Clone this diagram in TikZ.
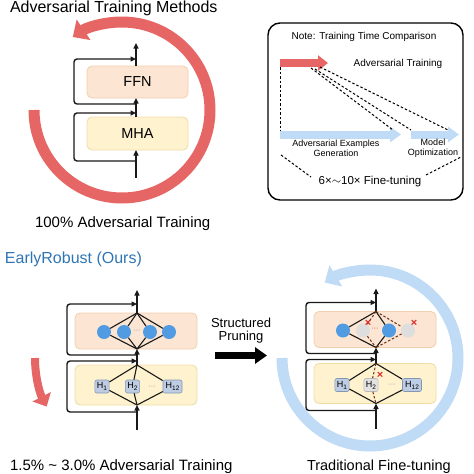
\documentclass[tikz,border=0pt]{standalone}
\usepackage{fontspec}
\setmainfont{Liberation Sans}
\usetikzlibrary{arrows.meta}
\definecolor{redA}{RGB}{230,102,102}
\definecolor{blueA}{RGB}{192,219,245}
\definecolor{ffnF}{RGB}{252,229,210}
\definecolor{ffnB}{RGB}{240,208,175}
\definecolor{mhaF}{RGB}{255,242,206}
\definecolor{mhaB}{RGB}{238,220,165}
\definecolor{neuB}{RGB}{80,155,225}
\definecolor{neuG}{RGB}{222,222,222}
\definecolor{headF}{RGB}{190,205,228}
\definecolor{headB}{RGB}{130,150,180}
\definecolor{headGF}{RGB}{226,226,226}
\definecolor{headGB}{RGB}{185,185,185}
\definecolor{xred}{RGB}{220,40,40}
\definecolor{dashc}{RGB}{110,50,30}
\definecolor{titleblue}{RGB}{46,117,182}
\definecolor{linec}{RGB}{25,25,25}
\newcommand{\fsz}[1]{\fontsize{#1}{#1}\selectfont}
\newcommand{\Hsub}[1]{H\raisebox{-1.8pt}{\fontsize{6.5}{7}\selectfont #1}}

\newcommand{\botframe}[3]{%
 \begin{scope}[shift={(#1,#2)}]
  \coordinate (#3in) at (0,430);
  \coordinate (#3out) at (0,290);
  \node[mhabox, minimum width=122pt, minimum height=40pt] (#3mha) at (-1,385) {};
  \node[ffnbox, minimum width=122pt, minimum height=36pt] (#3ffn) at (-1,331) {};
  \coordinate (#3mb) at (0,405); \coordinate (#3mt) at (0,365);
  \coordinate (#3fb) at (0,349); \coordinate (#3ft) at (0,313);
  \coordinate (#3la) at (0,412); \coordinate (#3lb) at (0,361);
  \coordinate (#3lc) at (0,355); \coordinate (#3ld) at (0,304);
  \draw[arr] (#3in) -- (#3mb);
  \draw[arr] (#3mt) -- (#3fb);
  \draw[arr] (#3ft) -- (#3out);
  \draw[arr, rounded corners=3pt] (#3la) -- ++(-70,0) |- (#3lb);
  \draw[arr, rounded corners=3pt] (#3lc) -- ++(-70,0) |- (#3ld);
 \end{scope}}

\begin{document}
\begin{tikzpicture}[x=1pt,y=-1pt,
  txt/.style={inner sep=0pt, outer sep=0pt},
  mainln/.style={line width=1.4pt, linec},
  arr/.style={mainln, -{Triangle[length=5.5pt,width=5pt]}},
  inln/.style={line width=1.1pt, linec},
  dsln/.style={line width=1.0pt, dashc, dash pattern=on 2.5pt off 1.8pt},
  ffnbox/.style={draw=ffnB, fill=ffnF, rounded corners=5pt, line width=0.8pt},
  mhabox/.style={draw=mhaB, fill=mhaF, rounded corners=5pt, line width=0.8pt},
  neuron/.style={circle, fill=neuB, minimum size=14pt, inner sep=0pt},
  neurong/.style={circle, fill=neuG, minimum size=14pt, inner sep=0pt},
  head/.style={rectangle, rounded corners=2pt, fill=headF, draw=headB, line width=0.6pt,
     minimum width=14pt, minimum height=13pt, inner xsep=2pt, inner ysep=0pt, font=\fsz{9}},
  headg/.style={head, fill=headGF, draw=headGB},
  xmark/.style={txt, text=xred, font=\bfseries\fsz{11}},
  dotsn/.style={txt, text=gray, font=\fsz{7}},
  redarc/.style={line width=11pt, redA, -{Triangle[length=13pt,width=24pt]}},
  bluearc/.style={line width=11pt, blueA, -{Triangle[length=13pt,width=24pt]}},
  dashblk/.style={line width=1pt, black, dash pattern=on 2.5pt off 2pt}
  ]
\useasboundingbox (0,0) rectangle (474,474);

% ---------------- top left ----------------
\draw[redarc] (122,110) ++(180:88pt) arc[start angle=180, end angle=484, radius=88pt];
\node[txt, anchor=base west, font=\fsz{16}] (title) at (10,12) {Adversarial Training Methods};

\coordinate (tin) at (136,178);
\coordinate (tout) at (136,43);
\node[mhabox, minimum width=101pt, minimum height=33pt, font=\fsz{14.5}] (tmha) at (137.5,133.5) {MHA};
\node[ffnbox, minimum width=101pt, minimum height=32pt, font=\fsz{14.5}] (tffn) at (137.5,82) {FFN};
\coordinate (tmb) at (136,150); \coordinate (tmt) at (136,117);
\coordinate (tfb) at (136,98); \coordinate (tft) at (136,66);
\coordinate (tla) at (136,161); \coordinate (tlb) at (136,113);
\coordinate (tlc) at (136,104); \coordinate (tld) at (136,59);
\draw[arr] (tin) -- (tmb);
\draw[arr] (tmt) -- (tfb);
\draw[arr] (tft) -- (tout);
\draw[arr, rounded corners=3pt] (tla) -- ++(-62,0) |- (tlb);
\draw[arr, rounded corners=3pt] (tlc) -- ++(-62,0) |- (tld);
\node[txt, anchor=base west, font=\fsz{15}] (full) at (35,227) {100\% Adversarial Training};

% ---------------- top right ----------------
\node[draw=black, line width=1.4pt, rounded corners=12pt, minimum width=195pt, minimum height=177pt, inner sep=0pt] (note) at (365.5,111.5) {};
\node[txt, font=\fsz{10}] (notet) at (364,37) {Note: Training Time Comparison};
\coordinate (ra1) at (280,63); \coordinate (ra2) at (328,63);
\draw[line width=7.5pt, redA, -{Triangle[length=10pt,width=15pt]}] (ra1) -- (ra2);
\node[txt, font=\fsz{10}] (advt) at (398,64) {Adversarial Training};
\coordinate (ba1) at (280,134.5); \coordinate (ba2) at (401,134.5);
\coordinate (bb1) at (411,134.5); \coordinate (bb2) at (459,134.5);
\draw[line width=8pt, blueA, -{Triangle[length=11pt,width=15pt]}] (ba1) -- (ba2);
\draw[line width=8pt, blueA, -{Triangle[length=11pt,width=15pt]}] (bb1) -- (bb2);
\coordinate (d1a) at (280,67); \coordinate (d1b) at (280,131);
\coordinate (d2a) at (311,68); \coordinate (d2b) at (393,130);
\coordinate (d3a) at (315,69); \coordinate (d3b) at (411,130);
\coordinate (d4a) at (320,67); \coordinate (d4b) at (448,130);
\draw[dashblk] (d1a) -- (d1b);
\draw[dashblk] (d2a) -- (d2b);
\draw[dashblk] (d3a) -- (d3b);
\draw[dashblk] (d4a) -- (d4b);
\node[txt, align=center, font=\fontsize{9}{10}\selectfont] (aeg) at (336,148) {Adversarial Examples\\Generation};
\node[txt, align=center, font=\fontsize{9}{10}\selectfont] (mopt) at (433,148) {Model\\Optimization};
\coordinate (e1a) at (281,155); \coordinate (e1b) at (311,177);
\coordinate (e2a) at (426,175); \coordinate (e2b) at (461,157);
\draw[dashblk] (e1a) -- (e1b);
\draw[dashblk] (e2a) -- (e2b);
\node[txt, font=\fsz{11.5}] (ft) at (370,182) {6×$\sim$10× Fine-tuning};

% ---------------- bottom ----------------
\node[txt, anchor=base west, font=\fsz{16}, text=titleblue] (ours) at (5,263) {EarlyRobust (Ours)};
\draw[line width=8pt, redA, -{Triangle[length=11pt,width=20pt]}] (142,358) ++(180:107pt) arc[start angle=180, end angle=207, radius=107pt];
\draw[bluearc] (370,358) ++(180:88pt) arc[start angle=180, end angle=481, radius=88pt];

% left stack
\botframe{137}{0}{L}
\begin{scope}[shift={(137,0)}]
 \node[neuron] (Ln1) at (-33,332) {};
 \node[neuron] (Ln2) at (-13,332) {};
 \node[neuron] (Ln3) at (13,332) {};
 \node[neuron] (Ln4) at (32,332) {};
 \node[dotsn] (Lnd) at (0,331) {···};
 \foreach \i in {1,2,3,4} {\draw[inln] (Lft) -- (Ln\i); \draw[inln] (Ln\i) -- (Lfb);}
 \node[head] (Lh1) at (-35,386.5) {\Hsub{1}};
 \node[head] (Lh2) at (-4.5,386.5) {\Hsub{2}};
 \node[head, minimum width=19pt] (Lh3) at (35.5,386.5) {\Hsub{12}};
 \node[dotsn] (Lhd) at (15,387) {···};
 \foreach \i in {1,2,3} {\draw[inln] (Lmt) -- (Lh\i); \draw[inln] (Lh\i) -- (Lmb);}
\end{scope}
\node[txt, anchor=base west, font=\fsz{15}] (few) at (10,470) {1.5\% \textasciitilde{} 3.0\% Adversarial Training};

% middle
\node[txt, align=center, font=\fontsize{13}{13}\selectfont] (sp) at (241,331) {Structured\\Pruning};
\coordinate (pa1) at (215,355.5); \coordinate (pa2) at (267,355.5);
\draw[line width=7pt, black, -{Triangle[length=12pt,width=16pt]}] (pa1) -- (pa2);

% right stack
\botframe{376}{-1.5}{R}
\begin{scope}[shift={(376,-1.5)}]
 \node[neuron] (Rn1) at (-33,332) {};
 \node[neurong] (Rn2) at (-13,332) {};
 \node[neuron] (Rn3) at (13,332) {};
 \node[neurong] (Rn4) at (32,332) {};
 \node[dotsn, text=xred] (Rnd) at (-1,331) {···};
 \draw[inln] (Rft) -- (Rn1); \draw[inln] (Rn1) -- (Rfb);
 \draw[inln] (Rft) -- (Rn3); \draw[inln] (Rn3) -- (Rfb);
 \draw[dsln] (Rft) -- (Rn2); \draw[dsln] (Rn2) -- (Rfb);
 \draw[dsln] (Rft) -- (Rn4); \draw[dsln] (Rn4) -- (Rfb);
 \node[xmark] (Rx1) at (-8,325) {×};
 \node[xmark] (Rx2) at (38,325) {×};
 \node[head] (Rh1) at (-34,386.5) {\Hsub{1}};
 \node[headg] (Rh2) at (-5,386.5) {\Hsub{2}};
 \node[head, minimum width=19pt] (Rh3) at (36,386.5) {\Hsub{12}};
 \node[dotsn] (Rhd) at (16,387) {···};
 \draw[inln] (Rmt) -- (Rh1); \draw[inln] (Rh1) -- (Rmb);
 \draw[inln] (Rmt) -- (Rh3); \draw[inln] (Rh3) -- (Rmb);
 \draw[dsln] (Rmt) -- (Rh2); \draw[dsln] (Rh2) -- (Rmb);
 \node[xmark] (Rx3) at (4,377) {×};
\end{scope}
\node[txt, anchor=base west, font=\fsz{14.5}] (trad) at (307,470) {Traditional Fine-tuning};

\end{tikzpicture}
\end{document}
